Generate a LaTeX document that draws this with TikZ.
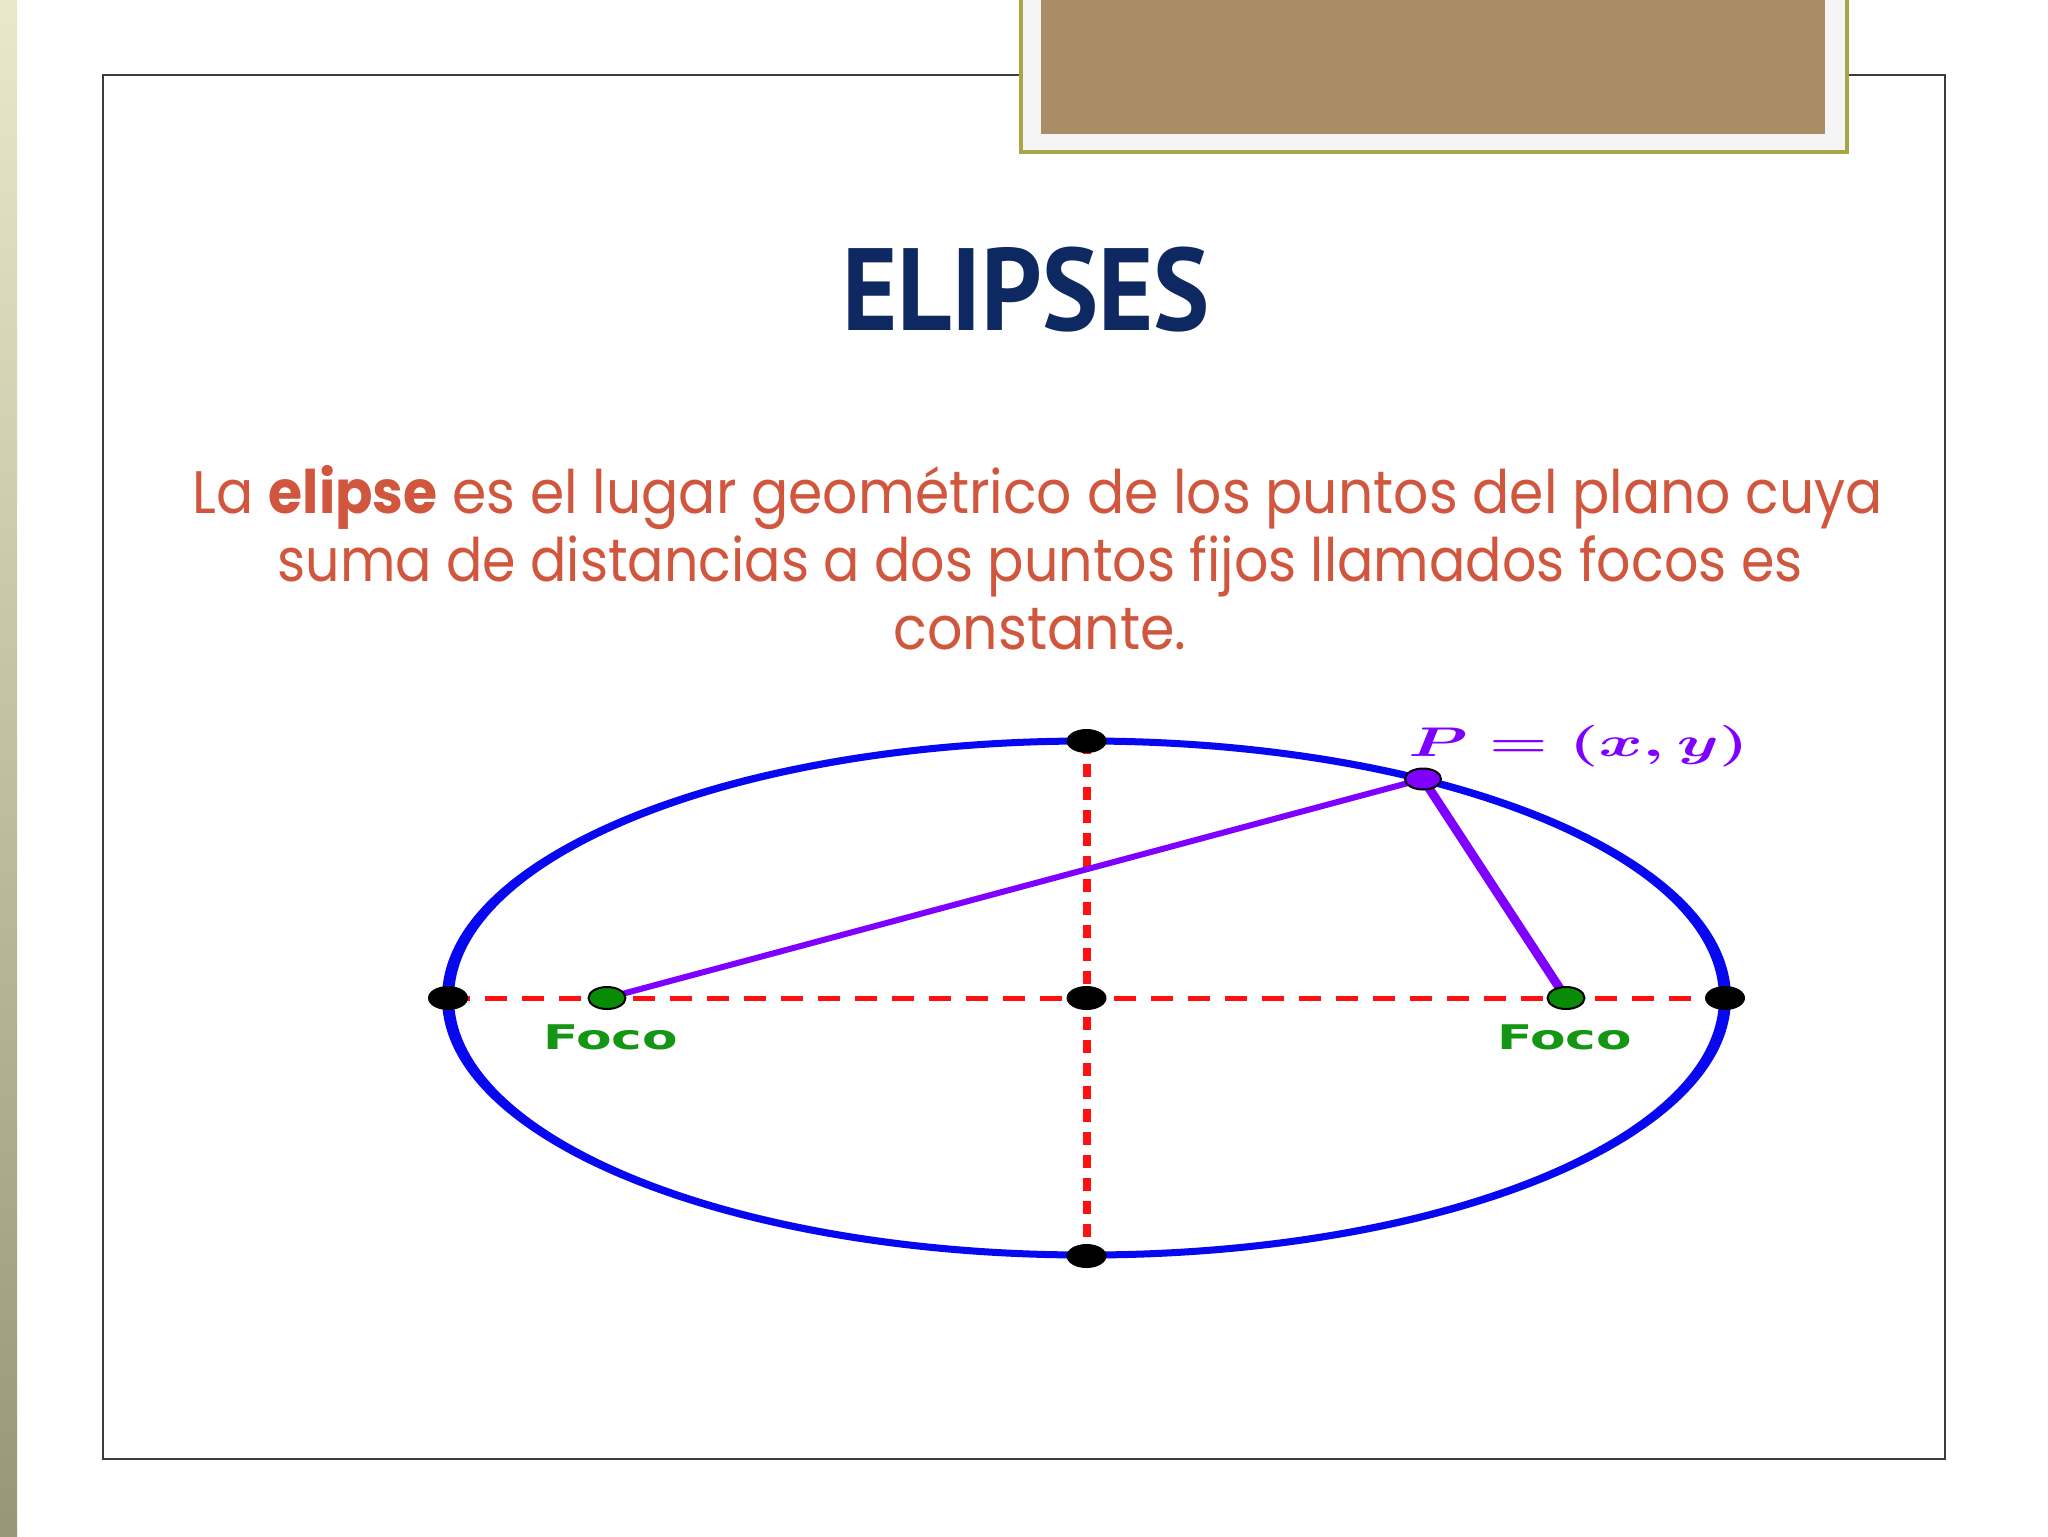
\documentclass[tikz,border=0pt]{standalone}
\usepackage{fontspec}
\usepackage{graphicx}
\usetikzlibrary{shapes.geometric,backgrounds}
\newfontfamily\bodyfont{Poppins}
\newfontfamily\titlefont{PT Sans}
\newfontfamily\focofont{DejaVu Sans}
\definecolor{stripTop}{RGB}{234,232,202}
\definecolor{stripBot}{RGB}{152,150,118}
\definecolor{framec}{RGB}{60,60,60}
\definecolor{boxborder}{RGB}{168,166,70}
\definecolor{boxwhite}{RGB}{245,245,245}
\definecolor{boxtan}{RGB}{170,141,103}
\definecolor{titleblue}{RGB}{14,40,98}
\definecolor{bodyred}{RGB}{209,86,62}
\definecolor{ringblue}{RGB}{8,8,240}
\definecolor{dashred}{RGB}{255,16,16}
\definecolor{ppurple}{RGB}{127,0,255}
\definecolor{focgreen}{RGB}{8,140,8}
\definecolor{focotext}{RGB}{20,150,20}
\tikzset{
  blackdot/.style={ellipse, fill=black, minimum width=20pt, minimum height=12pt, inner sep=0pt},
  focusdot/.style={ellipse, draw=black, line width=1pt, fill=focgreen, minimum width=18.5pt, minimum height=11pt, inner sep=0pt},
  pointdot/.style={ellipse, draw=black, line width=1pt, fill=ppurple, minimum width=18pt, minimum height=10.5pt, inner sep=0pt},
  bodyline/.style={anchor=base, inner sep=0pt, text=bodyred},
  focolabel/.style={anchor=base, inner sep=0pt, text=focotext},
  reddashh/.style={draw=dashred, line width=2.5pt, dash pattern=on 11pt off 7.5pt},
  reddashv/.style={draw=dashred, line width=4pt, dash pattern=on 6.5pt off 5pt},
  pline/.style={draw=ppurple}
}
\begin{document}
\begin{tikzpicture}[x=0.5pt,y=-0.5pt]
\useasboundingbox (0,0) rectangle (2048,1536);
\begin{scope}[on background layer]
  \fill[white] (0,0) rectangle (2048,1536);
\end{scope}
% left strip
\shade[top color=stripTop, bottom color=stripBot] (0,0) rectangle (17,1536);
% frame
\draw[framec, line width=1pt] (103,75) rectangle (1945,1459);
% tan box
\draw[boxborder, line width=2pt, fill=boxwhite] (1021,-10) rectangle (1847,152);
\fill[boxtan] (1041,-10) rectangle (1825,134);
% title
\node[anchor=base, inner sep=0pt, text=titleblue] (title) at (1026,330)
  {\resizebox{184pt}{\height}{\titlefont\bfseries\fontsize{58.5pt}{60pt}\selectfont ELIPSES}};
% body text
\node[bodyline] (l1) at (1038,513)
  {\resizebox{845pt}{\height}{\bodyfont\fontsize{30pt}{36pt}\selectfont La \textbf{elipse} es el lugar geométrico de los puntos del plano cuya}};
\node[bodyline] (l2) at (1040,581)
  {\resizebox{762.5pt}{\height}{\bodyfont\fontsize{30pt}{36pt}\selectfont suma de distancias a dos puntos fijos llamados focos es}};
\node[bodyline] (l3) at (1040,649)
  {\resizebox{146.5pt}{\height}{\bodyfont\fontsize{30pt}{36pt}\selectfont constante.}};
% points
\node[blackdot] (V1) at (448,998) {};
\node[blackdot] (V2) at (1725,998) {};
\node[blackdot] (T) at (1086.5,741) {};
\node[blackdot] (B) at (1086.5,1256) {};
\node[blackdot] (O) at (1086.5,998) {};
\node[focusdot] (F1) at (607,998) {};
\node[focusdot] (F2) at (1566,998) {};
\node[pointdot] (P) at (1423,779) {};
% labels
\node[focolabel] (fl1) at (610.5,1049)
  {\resizebox{67.5pt}{\height}{\focofont\bfseries\fontsize{17pt}{20pt}\selectfont Foco}};
\node[focolabel] (fl2) at (1564.5,1049)
  {\resizebox{67.5pt}{\height}{\focofont\bfseries\fontsize{17pt}{20pt}\selectfont Foco}};
\node[anchor=base west, inner sep=0pt, text=ppurple] (plabel) at (1408,756)
  {\resizebox{170pt}{\height}{\fontsize{21pt}{24pt}\selectfont{\boldmath$P=(x,y)$}}};
% ellipse and lines behind the points
\begin{scope}[on background layer]
  \fill[ringblue, even odd rule] (1086.5,998) ellipse [x radius=644.5, y radius=260.5]
        (1086.5,998) ellipse [x radius=632.5, y radius=253.5];
  \draw[reddashh] (V1.center) -- (V2.center);
  \draw[reddashv] (T.center) -- (B.center);
  \draw[pline, line width=3pt] (F1.center) -- (P.center);
  \draw[pline, line width=4.5pt] (F2.center) -- (P.center);
\end{scope}
\end{tikzpicture}
\end{document}
